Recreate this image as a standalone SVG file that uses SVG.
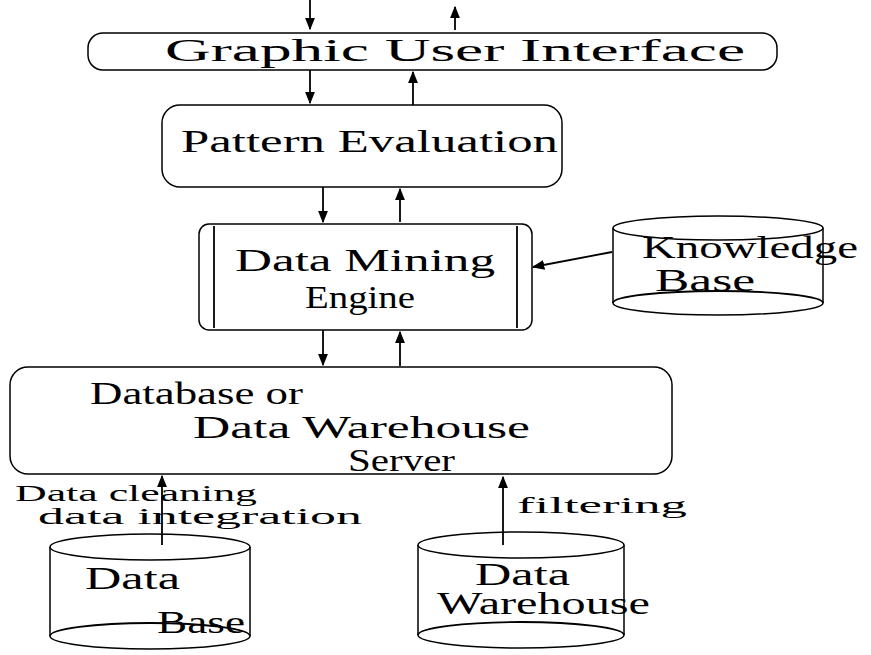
<svg xmlns="http://www.w3.org/2000/svg" width="871" height="655" viewBox="0 0 871 655">
<style>
.b{fill:#fff;stroke:#000;stroke-width:1.5}
.l{stroke:#000;stroke-width:1.8;fill:none}
text{font-family:"Liberation Serif",serif;fill:#000}
.t{font-size:31px}
.s{font-size:24px}
</style>
<defs>
<marker id="a" viewBox="0 0 10 10" refX="9" refY="5" markerWidth="7" markerHeight="7" orient="auto"><path d="M0,1 L10,5 L0,9 z" fill="#000"/></marker>
</defs>
<rect width="871" height="655" fill="#fff"/>
<g id="gui"><rect class="b" x="88" y="33" width="689" height="37" rx="15"/><text class="t" x="165" y="61" textLength="580" lengthAdjust="spacingAndGlyphs">Graphic User Interface</text></g>
<g id="pattern"><rect class="b" x="162" y="105" width="400" height="82" rx="18"/><text class="t" x="181" y="152" textLength="377" lengthAdjust="spacingAndGlyphs">Pattern Evaluation</text></g>
<g id="engine"><rect class="b" x="199" y="224" width="333" height="106" rx="10"/><line class="l" x1="214" y1="226" x2="214" y2="328" stroke-width="1.2"/><line class="l" x1="517" y1="226" x2="517" y2="328" stroke-width="1.2"/><text class="t" x="235" y="271" textLength="260" lengthAdjust="spacingAndGlyphs">Data Mining</text><text class="t" x="305" y="308" textLength="110" lengthAdjust="spacingAndGlyphs">Engine</text></g>
<g id="kb"><path class="b" d="M613,228 V303 A105,12 0 0 0 823,303 V228"/><ellipse class="b" cx="718" cy="228" rx="105" ry="12"/><path class="l" d="M613,303 A105,12 0 0 1 823,303" stroke-width="1.2"/><text class="t" x="642" y="258" textLength="216" lengthAdjust="spacingAndGlyphs">Knowledge</text><text class="t" x="655" y="291" textLength="100" lengthAdjust="spacingAndGlyphs">Base</text></g>
<g id="server"><rect class="b" x="10" y="367" width="662" height="107" rx="18"/><text class="t" x="90" y="404" textLength="213" lengthAdjust="spacingAndGlyphs">Database or</text><text class="t" x="193" y="438" textLength="337" lengthAdjust="spacingAndGlyphs">Data Warehouse</text><text class="t" x="348" y="471" textLength="107" lengthAdjust="spacingAndGlyphs">Server</text></g>
<g id="db"><path class="b" d="M50,547 V636 A100,13 0 0 0 250,636 V547"/><ellipse class="b" cx="150" cy="547" rx="100" ry="13"/><path class="l" d="M50,636 A100,13 0 0 1 250,636" stroke-width="1.2"/><text class="t" x="85" y="589" textLength="95" lengthAdjust="spacingAndGlyphs">Data</text><text class="t" x="157" y="633" textLength="88" lengthAdjust="spacingAndGlyphs">Base</text></g>
<g id="dw"><path class="b" d="M418,545 V635 A103,13 0 0 0 624,635 V545"/><ellipse class="b" cx="521" cy="545" rx="103" ry="13"/><path class="l" d="M418,635 A103,13 0 0 1 624,635" stroke-width="1.2"/><text class="t" x="475" y="585" textLength="95" lengthAdjust="spacingAndGlyphs">Data</text><text class="t" x="437" y="614" textLength="213" lengthAdjust="spacingAndGlyphs">Warehouse</text></g>
<g id="connectors">
<line class="l" x1="310" y1="0" x2="310" y2="29" marker-end="url(#a)"/>
<line class="l" x1="455" y1="30" x2="455" y2="7" marker-end="url(#a)"/>
<line class="l" x1="310" y1="70" x2="310" y2="103" marker-end="url(#a)"/>
<line class="l" x1="413" y1="105" x2="413" y2="72" marker-end="url(#a)"/>
<line class="l" x1="323" y1="187" x2="323" y2="222" marker-end="url(#a)"/>
<line class="l" x1="400" y1="222" x2="400" y2="189" marker-end="url(#a)"/>
<line class="l" x1="323" y1="330" x2="323" y2="365" marker-end="url(#a)"/>
<line class="l" x1="400" y1="366" x2="400" y2="332" marker-end="url(#a)"/>
<line class="l" x1="612" y1="252" x2="533" y2="267" marker-end="url(#a)"/>
<line class="l" x1="162" y1="545" x2="162" y2="476" marker-end="url(#a)"/>
<line class="l" x1="503" y1="545" x2="503" y2="477" marker-end="url(#a)"/>
<text class="s" x="15" y="501" textLength="242" lengthAdjust="spacingAndGlyphs">Data cleaning</text>
<text class="s" x="38" y="524" textLength="324" lengthAdjust="spacingAndGlyphs">data integration</text>
<text class="s" x="517" y="513" textLength="170" lengthAdjust="spacingAndGlyphs">filtering</text>
</g>
</svg>
